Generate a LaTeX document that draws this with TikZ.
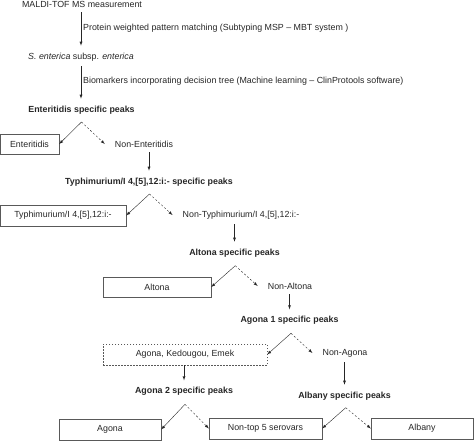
\documentclass[tikz,border=0pt]{standalone}
\usepackage{fontspec}
\setmainfont{Liberation Sans}

\begin{document}
\begin{tikzpicture}[x=1pt,y=-1pt,font=\fontsize{8.85}{10}\selectfont]
  \tikzstyle{txt}      = [inner sep=2pt,text=black!85]
  \tikzstyle{peak}     = [txt,font=\fontsize{8.85}{10}\selectfont\bfseries]
  \tikzstyle{serovar}  = [rectangle,draw=black!65,inner sep=2pt,text=black!85,minimum height=20pt]
  \tikzstyle{serovarD} = [serovar,dash pattern=on 1.5pt off 1.5pt]
  \tikzstyle{sec}      = [->,>=latex,draw=black!85]
  \tikzstyle{secD}     = [sec,dash pattern=on 2pt off 2pt]
  \tikzstyle{down}     = [sec,shorten <=3pt,shorten >=5pt]
  \useasboundingbox (0,0) rectangle (474,440);
  % species level
  \path (82,4)   node[txt](maldi) {MALDI-TOF MS measurement};
  \path (81,57)  node[txt](sent) {\textit{S. enterica} subsp. \textit{enterica}};
  \path (81.5,110) node[peak](entpk) {Enteritidis specific peaks};
  \draw[down] (maldi.south -| sent.north) -- (sent.north)
    node[txt,right,pos=0.45] {Protein weighted pattern matching (Subtyping MSP -- MBT system )};
  \draw[down] (sent.south) -- (sent.south |- entpk.north)
    node[txt,right,pos=0.45] {Biomarkers incorporating decision tree (Machine learning -- ClinProtools software)};
  % Enteritidis
  \path (81.5,122) coordinate (s1);
  \path (29.5,144) node[serovar,minimum width=59pt](ent) {Enteritidis};
  \path (144,144)  node[txt](nonent) {Non-Enteritidis};
  \draw[sec]  (s1) -- (ent.east);
  \draw[secD] (s1) -- ([xshift=-8pt]nonent.west);
  % Typhimurium
  \path (149,182) node[peak](typhpk) {Typhimurium/I 4,[5],12:i:- specific peaks};
  \draw[down] (nonent.south -| typhpk.north) -- (typhpk.north);
  \path (149.5,194) coordinate (s2);
  \path (63,215.5) node[serovar,minimum width=126pt,minimum height=21pt](typh) {Typhimurium/I 4,[5],12:i:-};
  \path (241,215)  node[txt](nontyph) {Non-Typhimurium/I 4,[5],12:i:-};
  \draw[sec]  (s2) -- (typh.east);
  \draw[secD] (s2) -- ([xshift=-8pt]nontyph.west);
  % Altona
  \path (234.5,253) node[peak](altpk) {Altona specific peaks};
  \draw[down] (nontyph.south -| altpk.north) -- (altpk.north);
  \path (235.3,265.7) coordinate (s3);
  \path (157,287) node[serovar,minimum width=108pt](alt) {Altona};
  \path (290,286) node[txt](nonalt) {Non-Altona};
  \draw[sec]  (s3) -- (alt.east);
  \draw[secD] (s3) -- ([xshift=-8pt]nonalt.west);
  % Agona 1
  \path (289.5,320.7) node[peak](ag1pk) {Agona 1 specific peaks};
  \draw[down] (nonalt.south -| ag1pk.north) -- (ag1pk.north);
  \path (291,333.3) coordinate (s4);
  \path (185,354.5) node[serovarD,minimum width=164pt,minimum height=21pt](ake) {Agona, Kedougou, Emek};
  \path (345,353) node[txt](nonag) {Non-Agona};
  \draw[sec]  (s4) -- (ake.east);
  \draw[secD] (s4) -- ([xshift=-8pt]nonag.west);
  % Agona 2 and Albany
  \path (184,391.7) node[peak](ag2pk) {Agona 2 specific peaks};
  \path (344.5,396) node[peak](albpk) {Albany specific peaks};
  \draw[down,shorten <=0pt] (ake.south -| ag2pk.north) -- (ag2pk.north);
  \draw[down] (nonag.south -| albpk.north) -- (albpk.north);
  \path (185,404.3)   coordinate (s5);
  \path (345.7,407.7) coordinate (s6);
  \path (110,429.5)   node[serovar,minimum width=102pt,minimum height=21pt](ag) {Agona};
  \path (265.5,428.5) node[serovar,minimum width=113pt,minimum height=21pt](nontop) {Non-top 5 serovars};
  \path (422,428.5)   node[serovar,minimum width=102pt,minimum height=21pt](alb) {Albany};
  \draw[sec]  (s5) -- (ag.east);
  \draw[secD] (s5) -- (nontop.west);
  \draw[sec]  (s6) -- (nontop.east);
  \draw[secD] (s6) -- (alb.west);
\end{tikzpicture}
\end{document}
